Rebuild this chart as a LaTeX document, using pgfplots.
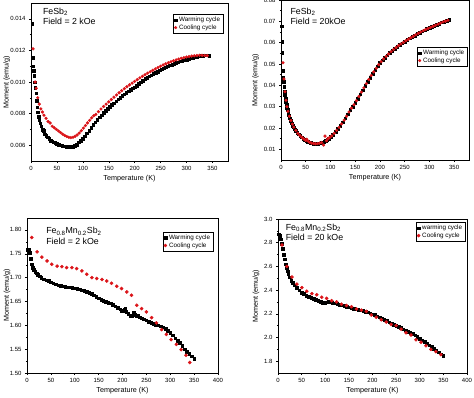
\documentclass[border=0pt]{standalone}
\usepackage{pgfplots}
\pgfplotsset{compat=1.18}
\usepackage{fontspec}
\setmainfont{Liberation Sans}
\definecolor{myred}{rgb}{0.86,0.08,0.10}
\tikzset{ann/.style={anchor=north west, align=left, font=\fontsize{8.8}{10.2}\selectfont, inner sep=0pt}}
\pgfplotsset{
 panel/.style={
  scale only axis, anchor=south west,
  xtick pos=bottom, ytick pos=left, tick align=outside,
  major tick length=2pt, minor tick length=1.2pt,
  minor x tick num=1, minor y tick num=1,
  tick label style={font=\fontsize{6}{7}\selectfont},
  label style={font=\fontsize{7.2}{8.5}\selectfont},
  /pgf/number format/assume math mode=true,
  xlabel={Temperature (K)}, ylabel={Moment (emu/g)},
  xlabel style={yshift=2pt}, ylabel style={yshift=-2pt},
  axis line style={line width=0.6pt},
  every tick/.style={line width=0.5pt},
  scaled y ticks=false,
  legend cell align=left,
  legend style={font=\fontsize{6.3}{7}\selectfont, draw=black, line width=0.3pt, inner sep=0.8pt, row sep=-2.5pt},
 },
 warm/.style={only marks, mark=square*, mark size=1.3pt, black},
 cool/.style={only marks, mark=*, mark size=1.4pt, myred, mark options={draw=myred, fill=myred}},
}
\begin{document}
\begin{tikzpicture}
\path[use as bounding box] (0pt,0pt) rectangle (474pt,397pt);
% ---------------- Panel 1
\begin{axis}[panel, at={(31pt,236pt)}, width=197pt, height=158pt,
 xmin=0, xmax=380, ymin=0.005, ymax=0.015,
 xtick={0,50,...,350}, ytick={0.006,0.008,0.010,0.012,0.014},
 ylabel style={yshift=-4.5pt},
 yticklabel style={/pgf/number format/fixed, /pgf/number format/fixed zerofill, /pgf/number format/precision=3},
 legend style={at={(0.975,0.93)}, anchor=north east}]
\addplot[warm] coordinates {
(2,0.0137) (3,0.01155) (4,0.0110) (5,0.0107) (6.5,0.0104) (7.2,0.0100) (8.3,0.00965) (9.7,0.0093) (11,0.0088) (12,0.0084) (13,0.0081) (14.5,0.0078) (16,0.0076) (18,0.0074) (20,0.0072) (22,0.0070) (24,0.0069) (26,0.0067) (29,0.0066) (32,0.0065) (35,0.0064) (38,0.0063) (41,0.00625) (44,0.0062) (47,0.00615) (50,0.0061) (53,0.00605) (56,0.0060) (60,0.00597) (64,0.00594) (68,0.00592) (72,0.0059) (76,0.0059) (80,0.00592) (84,0.00597) (88,0.00605) (92,0.0062) (96,0.0063)
(100,0.00640) (104,0.00657) (108,0.00675) (112,0.00693) (116,0.00711) (120,0.00728) (124,0.00745) (128,0.00761) (132,0.00776) (136,0.00790) (140,0.00804) (144,0.00817) (148,0.00830) (152,0.00843) (156,0.00855) (160,0.00867) (164,0.00879) (168,0.00890) (172,0.00901) (176,0.00912) (180,0.00922) (184,0.00932) (188,0.00942) (192,0.00952) (196,0.00961)
(200,0.00967) (204,0.00978) (208,0.00989) (212,0.00999) (216,0.01009) (220,0.01019) (224,0.01028) (228,0.01036) (232,0.01044) (236,0.01052) (240,0.01060) (244,0.01067) (248,0.01074) (252,0.01081) (256,0.01088) (260,0.01094) (264,0.01100) (268,0.01106) (272,0.01111) (276,0.01116) (280,0.01121) (284,0.01126) (288,0.01131) (292,0.01135) (296,0.01139) (300,0.01143) (304,0.01147) (308,0.01151) (312,0.01155) (316,0.01158) (320,0.01161) (324,0.01164) (328,0.01166) (332,0.01168) (336,0.01169) (340,0.01169) (344,0.01168)
};
\addlegendentry{Warming cycle}
\addplot[cool] coordinates {
(4,0.0121) (8,0.0100) (10,0.0096) (13,0.0090) (16,0.0086) (19,0.0083) (22,0.0081) (25,0.0079) (29,0.0077) (33,0.0075) (37,0.0074) (41,0.0072) (45,0.0071) (49,0.0070) (53,0.0069) (57,0.0068) (61,0.00670) (65,0.00662) (69,0.00655) (73,0.00650) (77,0.00648) (81,0.00650) (85,0.00656) (89,0.00665) (93,0.00677) (97,0.00692) (101,0.00708) (105,0.00724) (109,0.00741) (113,0.00757) (117,0.00773) (121,0.00786)
(125,0.00795) (130,0.00812) (135,0.00829) (140,0.00845) (145,0.00860) (150,0.00874) (155,0.00889) (160,0.00904) (165,0.00918) (170,0.00932) (175,0.00945) (180,0.00958) (185,0.00970) (190,0.00982) (195,0.00993)
(200,0.01004) (205,0.01015) (210,0.01026) (215,0.01036) (220,0.01046) (225,0.01056) (230,0.01065) (235,0.01074) (240,0.01083) (245,0.01092) (250,0.01100) (255,0.01108) (260,0.01115) (265,0.01122) (270,0.01128) (275,0.01134) (280,0.01140) (285,0.01145) (290,0.01150) (295,0.01154) (300,0.01158) (305,0.01161) (310,0.01164) (315,0.01166) (320,0.01168) (325,0.01169) (330,0.01169) (335,0.01168) (340,0.01167)
};
\addlegendentry{Cooling cycle}
\node[ann] at (rel axis cs:0.06,0.97) {FeSb\textsubscript{2}\\Field = 2 kOe};
\end{axis}
% ---------------- Panel 2
\begin{axis}[panel, at={(281pt,237pt)}, width=188pt, height=160pt,
 xmin=0, xmax=380, ymin=0.005, ymax=0.08,
 xtick={0,50,...,350}, ytick={0.01,0.02,...,0.08},
 yticklabel style={/pgf/number format/fixed, /pgf/number format/fixed zerofill, /pgf/number format/precision=2},
 legend style={at={(0.99,0.706)}, anchor=north east}]
\addplot[warm] coordinates {
(1.5,0.0678) (2.2,0.0604) (2.8,0.0553) (4,0.0468) (4.8,0.0437) (5.6,0.0416) (6.5,0.0393) (7.3,0.0372) (8,0.0355) (9,0.0338) (10,0.0322) (11,0.0308) (12,0.0296) (13,0.0285) (14.5,0.0272) (16,0.0260) (18,0.0246) (20,0.0233) (22,0.0222) (24,0.0212) (26,0.0203) (28,0.0195) (30,0.0188) (33,0.0179) (36,0.0171) (39,0.0163) (42,0.0156) (45,0.0150) (48,0.0145) (51,0.0140) (54,0.0136) (57,0.0133) (60,0.0130) (63,0.0128) (66,0.0127) (69,0.0126) (72,0.0126) (75,0.0127) (78,0.0128) (81,0.0130) (84,0.0133) (87,0.0136) (90,0.0140) (93,0.0145) (96,0.0151)
(100,0.0158) (105,0.0169) (110,0.0182) (115,0.0196) (120,0.0211) (125,0.0228) (130,0.0246) (135,0.0265) (140,0.0285) (145,0.0301) (150,0.0318) (155,0.0338) (160,0.0358) (165,0.0378) (170,0.0398) (175,0.0418) (180,0.0437) (185,0.0455) (190,0.0472) (195,0.0489) (200,0.0505) (205,0.0518) (210,0.0530) (215,0.0542) (220,0.0553) (225,0.0563) (230,0.0573) (235,0.0582) (240,0.0590) (245,0.0598) (250,0.0605) (255,0.0613) (260,0.0620) (265,0.0627) (270,0.0634) (275,0.0641) (280,0.0647) (285,0.0653) (290,0.0659) (295,0.0665) (300,0.0670) (305,0.0675) (310,0.0680) (315,0.0685) (320,0.0690) (325,0.0695) (330,0.0699) (335,0.0703) (340,0.0707)
};
\addlegendentry{Warming cycle}
\addplot[cool] coordinates {
(4,0.0506) (6,0.0430) (8,0.0370) (10,0.0330) (12,0.0300) (14,0.0278) (17,0.0255) (20,0.0235) (23,0.0218) (26,0.0204) (30,0.0189) (34,0.0175) (38,0.0165) (42,0.0157) (46,0.0149) (50,0.0142) (52,0.0147) (55,0.0138) (58,0.0133) (62,0.0129) (66,0.0127) (70,0.0126) (74,0.0127) (78,0.0129) (82,0.0132) (86,0.0120) (89,0.0162) (92,0.0140) (95,0.0150) (98,0.0155)
(102.5,0.0163) (107.5,0.0175) (112.5,0.0189) (117.5,0.0203) (122.5,0.0219) (127.5,0.0237) (132.5,0.0255) (137.5,0.0275) (142.5,0.0293) (147.5,0.0309) (152.5,0.0328) (157.5,0.0348) (162.5,0.0368) (167.5,0.0388) (172.5,0.0408) (177.5,0.0427) (182.5,0.0446) (187.5,0.0463) (192.5,0.0480) (197.5,0.0497) (202.5,0.0511) (207.5,0.0524) (212.5,0.0536) (217.5,0.0547) (222.5,0.0558) (227.5,0.0568) (232.5,0.0577) (237.5,0.0586) (242.5,0.0594) (247.5,0.0601) (252.5,0.0609) (257.5,0.0616) (262.5,0.0623) (267.5,0.0630) (272.5,0.0637) (277.5,0.0644) (282.5,0.0650) (287.5,0.0656) (292.5,0.0662) (297.5,0.0667) (302.5,0.0672) (307.5,0.0677) (312.5,0.0682) (317.5,0.0687) (322.5,0.0692) (327.5,0.0697) (332.5,0.0701) (337.5,0.0705)
};
\addlegendentry{Cooling cycle}
\node[ann] at (rel axis cs:0.05,0.95) {FeSb\textsubscript{2}\\Field = 20kOe};
\end{axis}
% ---------------- Panel 3
\begin{axis}[panel, at={(27pt,24pt)}, width=191pt, height=155pt,
 xmin=0, xmax=400, ymin=1.5, ymax=1.825,
 xtick={0,50,...,400}, ytick={1.50,1.55,...,1.81},
 ylabel style={yshift=-5.5pt},
 yticklabel style={/pgf/number format/fixed, /pgf/number format/fixed zerofill, /pgf/number format/precision=2},
 cool/.append style={mark size=1.6pt},
 legend style={at={(0.974,0.91)}, anchor=north east}]
\addplot[warm] coordinates {
(2,1.759) (4,1.758) (6,1.752) (8,1.740) (10,1.728) (12,1.721) (14,1.717) (17,1.712) (20,1.709) (23,1.706) (26,1.703) (30,1.700) (35,1.697) (40,1.695) (45,1.693) (50,1.690) (55,1.688) (60,1.686) (65,1.684) (70,1.683) (75,1.682) (80,1.681) (85,1.680) (90,1.680) (95,1.679) (100,1.678) (105,1.677) (110,1.676) (115,1.674) (120,1.672) (125,1.670) (130,1.668) (135,1.666) (140,1.663) (145,1.660) (150,1.657) (155,1.654) (160,1.652) (165,1.650) (170,1.648) (175,1.646) (180,1.643) (185,1.640) (190,1.637) (195,1.634) (198,1.630) (201,1.631) (204,1.633) (206,1.636) (208,1.628) (212,1.624) (216,1.620) (219,1.619) (222,1.623) (224,1.626) (227,1.622) (230,1.619) (233,1.620) (236,1.617) (240,1.615) (245,1.613) (250,1.611) (255,1.608) (260,1.605) (265,1.603) (270,1.601) (275,1.600) (280,1.598) (285,1.596) (290,1.593) (295,1.589) (300,1.584) (305,1.579) (310,1.573) (315,1.568) (320,1.563) (325,1.557) (330,1.550) (335,1.545) (340,1.540) (345,1.535) (350,1.530)
};
\addlegendentry{Warming cycle}
\addplot[cool] coordinates {
(10,1.784) (21,1.754) (31,1.743) (42,1.735) (52,1.728) (63,1.724) (73,1.723) (83,1.721) (94,1.721) (104,1.719) (115,1.714) (125,1.707) (136,1.700) (146,1.698) (157,1.696) (167,1.693) (177,1.688) (188,1.682) (198,1.677) (209,1.670) (219,1.663) (230,1.642) (240,1.635) (250,1.628) (261,1.616) (271,1.605) (282,1.591) (292,1.581) (302,1.570) (313,1.560) (323,1.549) (333,1.537) (341,1.522)
};
\addlegendentry{Cooling cycle}
\node[ann] at (rel axis cs:0.10,0.94) {Fe\textsubscript{0.8}Mn\textsubscript{0.2}Sb\textsubscript{2}\\Field = 2 kOe};
\end{axis}
% ---------------- Panel 4
\begin{axis}[panel, at={(278pt,24pt)}, width=189pt, height=154pt,
 xmin=0, xmax=400, ymin=1.7, ymax=3.0,
 xtick={0,50,...,400}, ytick={1.8,2.0,...,3.01},
 yticklabel style={/pgf/number format/fixed, /pgf/number format/fixed zerofill, /pgf/number format/precision=1},
 cool/.append style={mark size=1.6pt},
 legend style={at={(0.99,0.98)}, anchor=north east}]
\addplot[warm] coordinates {
(2,2.872) (4,2.86) (6,2.83) (8,2.79) (10,2.75) (12,2.70) (14,2.66) (16,2.62) (18,2.59) (20,2.56) (22,2.54) (25,2.51) (28,2.48) (31,2.46) (35,2.44) (40,2.42) (45,2.40) (50,2.38) (55,2.37) (60,2.355) (65,2.345) (70,2.335) (75,2.325) (80,2.318) (85,2.31) (90,2.30) (95,2.293) (98,2.288) (100,2.29) (103,2.298) (106,2.300) (110,2.298) (115,2.295) (120,2.29) (125,2.285) (130,2.278) (135,2.272) (140,2.266) (145,2.260) (150,2.255) (155,2.250) (160,2.245) (165,2.240) (170,2.235) (175,2.230) (180,2.224) (185,2.218) (190,2.212) (195,2.205) (200,2.197) (205,2.190) (210,2.180) (215,2.170) (220,2.160) (225,2.150) (230,2.140) (235,2.130) (240,2.120) (245,2.110) (250,2.100) (255,2.090) (260,2.080) (265,2.070) (270,2.060) (275,2.050) (280,2.040) (285,2.030) (290,2.018) (295,2.005) (300,1.990) (305,1.977) (310,1.963) (315,1.950) (320,1.935) (325,1.920) (330,1.905) (335,1.890) (340,1.875) (345,1.860) (350,1.845)
};
\addlegendentry{warming cycle}
\addplot[cool] coordinates {
(8.5,2.78) (19,2.60) (29.5,2.51) (40,2.45) (50.5,2.42) (61,2.39) (71.5,2.37) (82,2.36) (92.5,2.34) (103,2.33) (113.5,2.31) (124,2.30) (134.5,2.28) (145,2.27) (155.5,2.26) (166,2.24) (176.5,2.23) (187,2.22) (197.5,2.19) (208,2.17) (218.5,2.15) (229,2.13) (239.5,2.11) (250,2.10) (260.5,2.07) (271,2.04) (281.5,2.02) (292,1.98) (302.5,1.96) (313,1.93) (323.5,1.90) (334,1.88) (344.5,1.855)
};
\addlegendentry{Cooling cycle}
\node[ann] at (rel axis cs:0.04,0.97) {Fe\textsubscript{0.8}Mn\textsubscript{0.2}Sb\textsubscript{2}\\Field = 20 kOe};
\end{axis}
\end{tikzpicture}
\end{document}
